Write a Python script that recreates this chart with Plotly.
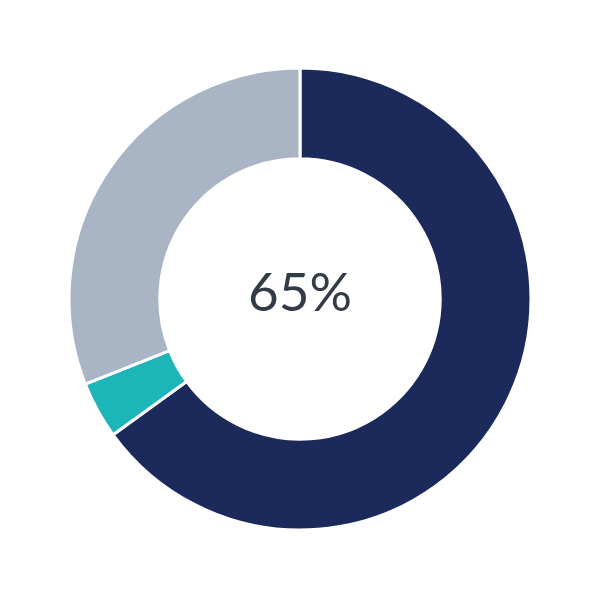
import plotly.graph_objects as go

labels = ["A", "B", "C"]
values = [65, 4, 31]
colors = ["#1b2a5a", "#1db6b8", "#a9b4c4"]
center_text = "65%"

fig = go.Figure(go.Pie(
    labels=labels,
    values=values,
    hole=0.607,
    sort=False,
    direction="clockwise",
    rotation=0,
    marker=dict(colors=colors, line=dict(color="white", width=3)),
    textinfo="none",
    hoverinfo="label+percent",
    showlegend=False,
))
fig.update_layout(
    width=600, height=599,
    margin=dict(l=61, r=77, t=60, b=77),
    paper_bgcolor="white",
    plot_bgcolor="white",
    annotations=[dict(text=center_text, x=0.5, y=0.5, xref="paper", yref="paper",
                      showarrow=False, yshift=9,
                      font=dict(family="Lato", size=53, color="#333b47"))],
)
fig.write_html("out.html")
